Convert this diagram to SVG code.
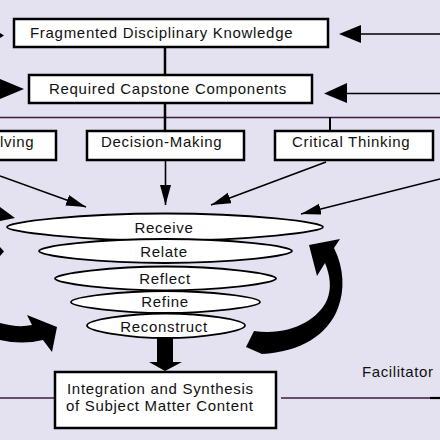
<svg xmlns="http://www.w3.org/2000/svg" width="440" height="440" viewBox="0 0 440 440">
<defs>
<style>
.box{fill:#fff;stroke:#000;stroke-width:2.5}
.t{font-family:"Liberation Sans",Arial,sans-serif;font-size:15px;letter-spacing:0.7px;fill:#111}
.c{text-anchor:middle}
.ring{fill:#fff;stroke:#000;stroke-width:1.8}
.thin{stroke:#000;stroke-width:1.6;fill:none}
.link{stroke:#000;stroke-width:2.5;fill:none}
.rule{stroke:#3a1c40;stroke-width:1.6;fill:none}
.solid{fill:#000}
</style>
<marker id="ah" markerUnits="userSpaceOnUse" markerWidth="22" markerHeight="12" refX="20" refY="5.5" orient="auto">
<path d="M0,0 L20,5.5 L0,11 Z" fill="#000"/>
</marker>
</defs>
<rect width="440" height="440" fill="#e4e1f0"/>

<g id="connectors">
<line class="rule" x1="0" y1="117.5" x2="440" y2="117.5"/>
<line class="rule" x1="0" y1="398" x2="55" y2="398"/>
<line class="rule" x1="281" y1="398" x2="440" y2="398"/>
<line x1="430" y1="398" x2="440" y2="398" stroke="#000" stroke-width="2.2"/>
<line class="link" x1="165" y1="47" x2="165" y2="75"/>
<line class="link" x1="165" y1="103" x2="165" y2="131"/>
<line x1="330" y1="117" x2="330" y2="131" stroke="#000" stroke-width="2"/>
<line class="thin" x1="361" y1="34" x2="440" y2="34"/>
<polygon class="solid" points="339,34 361,25 361,43"/>
<line class="thin" x1="346" y1="93.5" x2="440" y2="93.5"/>
<polygon class="solid" points="324,93.5 347,83 347,103"/>
<polygon class="solid" points="0,79 24,89 0,99"/>
<polygon class="solid" points="0,33 4,35.5 0,38"/>
<polygon class="solid" points="0,207 15,218 0,221"/>
<polygon class="solid" points="0,247 4,251.5 0,256"/>
<line class="thin" x1="165.5" y1="161" x2="165.5" y2="205" marker-end="url(#ah)"/>
<line class="thin" x1="326" y1="162" x2="211" y2="205" marker-end="url(#ah)"/>
<line class="thin" x1="0" y1="176" x2="86" y2="207" marker-end="url(#ah)"/>
<line class="thin" x1="440" y1="179" x2="301" y2="214" marker-end="url(#ah)"/>
<path class="solid" d="M0,323 Q18,328 32,325 L27,315 L57,327 L52,352 L43,340 Q22,345 0,340 Z"/>
<path class="solid" d="M309,245 L340,239 L334,248 C344,268 345,290 338,308 C328,335 300,352 262,354 L246,347 L254,331 C290,336 318,320 327,300 C332,288 330,275 325,263 L317,276 Z"/>
<path class="solid" d="M157,338 L173,338 L173,362 L182,362 L165,371 L149,362 L157,362 Z"/>
</g>

<g id="fragmented">
<rect class="box" x="14" y="19" width="314" height="28"/>
<text class="t" x="30" y="38">Fragmented Disciplinary Knowledge</text>
</g>
<g id="required">
<rect class="box" x="29" y="75" width="283" height="28"/>
<text class="t" x="49" y="94">Required Capstone Components</text>
</g>
<g id="problem-solving">
<rect class="box" x="-5" y="131" width="61" height="29"/>
<text class="t" x="0" y="147">lving</text>
</g>
<g id="decision">
<rect class="box" x="87" y="131" width="157" height="29"/>
<text class="t" x="101" y="147">Decision-Making</text>
</g>
<g id="critical">
<rect class="box" x="275" y="131" width="158" height="29"/>
<text class="t" x="292" y="147">Critical Thinking</text>
</g>

<g id="receive">
<path class="ring" d="M7,227 C7,222 80,213.5 165,213.5 C250,213.5 323,222 323,227 C323,232 250,240.5 165,240.5 C80,240.5 7,232 7,227 Z"/>
<text class="t c" x="164" y="233">Receive</text>
</g>
<g id="relate">
<path class="ring" d="M39,251 C39,246 98,239 165,239 C232,239 292,246 292,251 C292,256 232,263 165,263 C98,263 39,256 39,251 Z"/>
<text class="t c" x="164" y="257">Relate</text>
</g>
<g id="reflect">
<path class="ring" d="M55,278.5 C55,273.5 113,266.5 165.5,266.5 C218,266.5 276,273.5 276,278.5 C276,283.5 218,290.5 165.5,290.5 C113,290.5 55,283.5 55,278.5 Z"/>
<text class="t c" x="165" y="284">Reflect</text>
</g>
<g id="refine">
<path class="ring" d="M71,302 C71,297 121,291 165.5,291 C210,291 260,297 260,302 C260,307 210,313 165.5,313 C121,313 71,307 71,302 Z"/>
<text class="t c" x="165" y="307">Refine</text>
</g>
<g id="reconstruct">
<path class="ring" d="M87,325.5 C87,320 128,313.5 166,313.5 C204,313.5 245,320 245,325.5 C245,331 204,338 166,338 C128,338 87,331 87,325.5 Z"/>
<text class="t c" x="164" y="332">Reconstruct</text>
</g>

<g id="integration">
<rect class="box" x="55" y="372" width="221" height="56"/>
<text class="t" x="67" y="394">Integration and Synthesis</text>
<text class="t" x="66" y="411">of Subject Matter Content</text>
</g>
<g id="facilitator">
<text class="t" x="362" y="377" style="letter-spacing:0.6px">Facilitator</text>
</g>
</svg>
